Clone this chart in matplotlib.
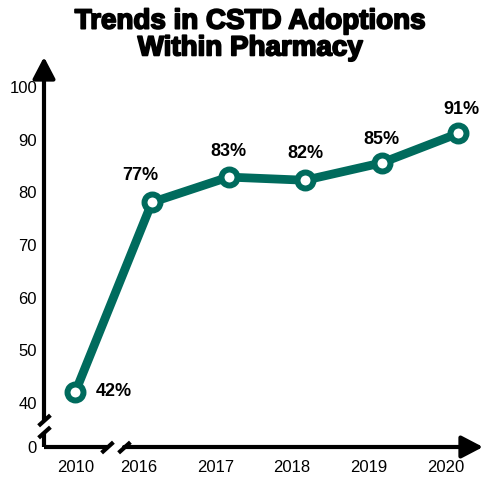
import numpy as np
import matplotlib
matplotlib.use("Agg")
import matplotlib.pyplot as plt
import matplotlib.patheffects as pe

plt.rcParams['font.family'] = ['Liberation Sans', 'DejaVu Sans']

# donnees
years = ["2010", "2016", "2017", "2018", "2019", "2020"]
adoption = [42.1, 78.1, 82.9, 82.3, 85.6, 91.2]
labels = ["42%", "77%", "83%", "82%", "85%", "91%"]
y_ticks = [40, 50, 60, 70, 80, 90, 100]

teal = "#006b5d"
y0 = 31.65          # position du "0" apres la coupure
x_left, x_right = -0.409, 5.322
y_top = 105.7

fig = plt.figure(figsize=(4.98, 4.98), dpi=100)
ax = fig.add_axes([44/498, 51/498, 439/498, 390/498])
ax.set_xlim(x_left, x_right)
ax.set_ylim(y0, y_top)
for s in ax.spines.values():
    s.set_visible(False)

x = np.arange(len(years))

# axe y (coupe entre 0 et 40)
ax.plot([x_left, x_left], [y0, 34.5], color="black", lw=3, clip_on=False, solid_capstyle="butt")
ax.annotate("", xy=(x_left, y_top), xytext=(x_left, 36.8), xycoords="data",
            arrowprops=dict(arrowstyle="-|>,head_length=0.65,head_width=0.34", lw=3,
                            color="black", mutation_scale=20, shrinkA=0, shrinkB=0),
            annotation_clip=False)
# axe x (coupe entre 2010 et 2016)
ax.plot([x_left, 0.414], [y0, y0], color="black", lw=3, clip_on=False, solid_capstyle="butt")
ax.annotate("", xy=(x_right, y0), xytext=(0.636, y0), xycoords="data",
            arrowprops=dict(arrowstyle="-|>,head_length=0.65,head_width=0.34", lw=3,
                            color="black", mutation_scale=20, shrinkA=0, shrinkB=0),
            annotation_clip=False)

# marques de coupure
slash = [(-1, -0.9), (1, 0.9)]
ax.plot([x_left, x_left], [34.5, 36.8], ls="none", marker=slash, ms=8.5, mew=3,
        color="black", clip_on=False)
ax.plot([0.414, 0.636], [y0, y0], ls="none", marker=slash, ms=8.5, mew=3,
        color="black", clip_on=False)

# courbe
ax.plot(x, adoption, color=teal, lw=6.3, marker="o", ms=11.5, mfc="white",
        mec=teal, mew=4.3, zorder=3, clip_on=False)

# etiquettes
offsets = [(15, 0), (-8.5, 19.5), (0, 18.5), (0, 19), (0, 17), (2, 17)]
for i, (lab, off) in enumerate(zip(labels, offsets)):
    ax.annotate(lab, (x[i], adoption[i]), xytext=off, textcoords="offset points",
                ha="left" if i == 0 else "center", va="center",
                fontsize=13, fontweight="bold")

# graduations
ax.set_yticks([y0] + y_ticks)
ax.set_yticklabels(["0"] + [str(v) for v in y_ticks])
ax.set_xticks(x - np.r_[0, [0.17] * 5])
ax.set_xticklabels(years)
ax.tick_params(axis="y", length=0, pad=5, labelsize=12)
ax.tick_params(axis="x", length=0, pad=9, labelsize=12)

fig.text(0.502, 1 - 35/498, "Trends in CSTD Adoptions\nWithin Pharmacy",
         ha="center", va="center", fontsize=20, fontweight="bold", linespacing=1.04,
         path_effects=[pe.withStroke(linewidth=1.3, foreground="black")])

fig.savefig("out.png", dpi=100)
